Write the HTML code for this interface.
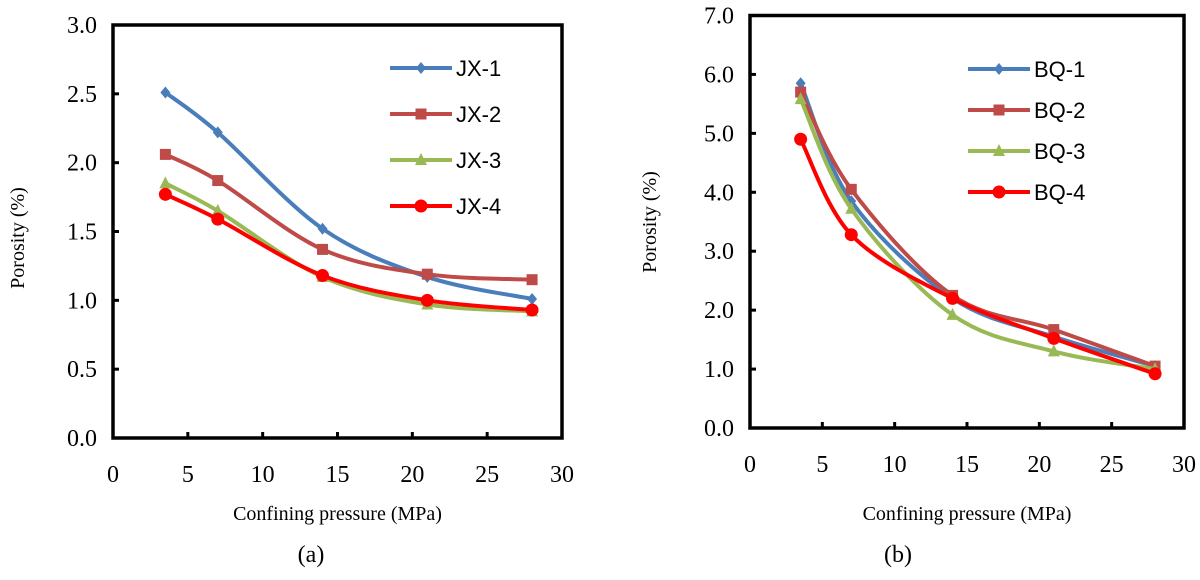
<!DOCTYPE html>
<html><head><meta charset="utf-8"><style>
html,body{margin:0;padding:0;background:#fff;}
svg{display:block;}
.tk{font-family:"Liberation Serif",serif;font-size:24px;fill:#000;}
.at{font-family:"Liberation Serif",serif;font-size:20px;fill:#000;}
.lg{font-family:"Liberation Sans",sans-serif;font-size:22px;fill:#000;}
</style></head><body>
<svg id="chart" width="1200" height="580" viewBox="0 0 1200 580" xmlns="http://www.w3.org/2000/svg"></svg>
<script>
const xCats = [3.5, 7, 14, 21, 28];
const xTicks = [0, 5, 10, 15, 20, 25, 30];
const yTicksA = [0.0, 0.5, 1.0, 1.5, 2.0, 2.5, 3.0];
const yTicksB = [0, 1, 2, 3, 4, 5, 6, 7];
const namesA = ["JX-1", "JX-2", "JX-3", "JX-4"];
const jx1 = [2.51, 2.22, 1.52, 1.17, 1.01];
const jx2 = [2.06, 1.87, 1.37, 1.19, 1.15];
const jx3 = [1.85, 1.65, 1.17, 0.97, 0.92];
const jx4 = [1.77, 1.59, 1.18, 1.00, 0.93];
const namesB = ["BQ-1", "BQ-2", "BQ-3", "BQ-4"];
const bq1 = [5.85, 3.85, 2.20, 1.55, 1.05];
const bq2 = [5.70, 4.05, 2.25, 1.67, 1.05];
const bq3 = [5.58, 3.72, 1.92, 1.30, 1.00];
const bq4 = [4.90, 3.28, 2.20, 1.52, 0.92];

const NS = "http://www.w3.org/2000/svg";
const svg = document.getElementById("chart");
const colors = ["#4a7ebb", "#be4b48", "#98b954", "#ff0000"];
const markers = ["diamond", "square", "triangle", "circle"];

function mk(tag, attrs, parent) {
  const e = document.createElementNS(NS, tag);
  for (const k in attrs) e.setAttribute(k, attrs[k]);
  (parent || svg).appendChild(e);
  return e;
}
function smoothPath(pts) {
  let d = "M" + pts[0][0] + "," + pts[0][1];
  for (let i = 0; i < pts.length - 1; i++) {
    const p0 = pts[i - 1] || pts[i], p1 = pts[i], p2 = pts[i + 1], p3 = pts[i + 2] || p2;
    const t = 1 / 6;
    const c1x = p1[0] + (p2[0] - p0[0]) * t, c1y = p1[1] + (p2[1] - p0[1]) * t;
    const c2x = p2[0] - (p3[0] - p1[0]) * t, c2y = p2[1] - (p3[1] - p1[1]) * t;
    d += " C" + c1x + "," + c1y + " " + c2x + "," + c2y + " " + p2[0] + "," + p2[1];
  }
  return d;
}
function marker(g, type, x, y, c) {
  let e;
  if (type === "diamond") e = mk("polygon", {points: `${x},${y-6} ${x+5},${y} ${x},${y+6} ${x-5},${y}`, fill: c}, g);
  else if (type === "square") e = mk("rect", {x: x-5.5, y: y-5.5, width: 11, height: 11, fill: c}, g);
  else if (type === "triangle") e = mk("polygon", {points: `${x},${y-7} ${x+6},${y+5} ${x-6},${y+5}`, fill: c}, g);
  else e = mk("circle", {cx: x, cy: y, r: 6.5, fill: c}, g);
  return e;
}

function drawChart(cfg) {
  const g = mk("g", {});
  
  
  const X = v => cfg.x0 + v / 30 * (cfg.x1 - cfg.x0);
  const Y = v => cfg.yb - v / cfg.ymax * (cfg.yb - cfg.yt);
  cfg.series.forEach((vals, i) => {
    const sg = mk("g", {}, g);
    
    
    const pts = xCats.map((xv, j) => [X(xv), Y(vals[j])]);
    const p = mk("path", {d: smoothPath(pts), fill: "none", stroke: colors[i], "stroke-width": 4}, sg);
    
    
    pts.forEach(pt => {
      const m = marker(sg, markers[i], pt[0], pt[1], colors[i]);
      
      
    });
  });
  const box = mk("rect", {x: cfg.x0, y: cfg.yt, width: cfg.x1 - cfg.x0, height: cfg.yb - cfg.yt, fill: "none", stroke: "#000", "stroke-width": 3.5}, g);
  
  
  xTicks.forEach(v => {
    const x = X(v);
    if (v > 0 && v < 30) mk("line", {x1: x, x2: x, y1: cfg.yb, y2: cfg.yb - 6, stroke: "#000", "stroke-width": 3}, g);
    const t = mk("text", {x: x, y: cfg.yb + 44, "text-anchor": "middle", class: "tk"}, g);
    t.textContent = v;
    
    
  });
  cfg.yTicks.forEach(v => {
    const y = Y(v);
    if (v > 0 && v < cfg.ymax) mk("line", {x1: cfg.x0, x2: cfg.x0 + 6, y1: y, y2: y, stroke: "#000", "stroke-width": 3}, g);
    const t = mk("text", {x: cfg.x0 - 16, y: y + 8, "text-anchor": "end", class: "tk"}, g);
    t.textContent = v.toFixed(1);
    
    
  });
  const xt = mk("text", {x: (cfg.x0 + cfg.x1) / 2, y: 520, "text-anchor": "middle", class: "at"}, g);
  xt.textContent = "Confining pressure (MPa)";
  
  
  const yt = mk("text", {x: 0, y: 0, "text-anchor": "middle", class: "at", transform: `translate(${cfg.ytx},${cfg.yty}) rotate(-90)`}, g);
  yt.textContent = "Porosity (%)";
  
  
  const cap = mk("text", {x: cfg.capx, y: 562, "text-anchor": "middle", class: "tk"}, g);
  cap.textContent = cfg.cap;
  
  
  cfg.names.forEach((n, i) => {
    const lg = mk("g", {}, g);
    
    
    const y = cfg.ly + i * cfg.lsp;
    mk("line", {x1: cfg.lx, x2: cfg.lx + 62, y1: y, y2: y, stroke: colors[i], "stroke-width": 4}, lg);
    marker(lg, markers[i], cfg.lx + 31, y, colors[i]);
    const t = mk("text", {x: cfg.lx + 66, y: y + 8, class: "lg"}, lg);
    t.textContent = n;
  });
}

drawChart({name: "chart-a", x0: 113, x1: 562, yt: 25, yb: 438, ymax: 3, yTicks: yTicksA,
  series: [jx1, jx2, jx3, jx4], names: namesA, ytx: 24, yty: 238, capx: 311, cap: "(a)",
  lx: 390, ly: 68, lsp: 46});
drawChart({name: "chart-b", x0: 750, x1: 1184, yt: 15.5, yb: 428, ymax: 7, yTicks: yTicksB,
  series: [bq1, bq2, bq3, bq4], names: namesB, ytx: 656, yty: 222, capx: 898, cap: "(b)",
  lx: 968, ly: 69, lsp: 41});
</script>
</body></html>
